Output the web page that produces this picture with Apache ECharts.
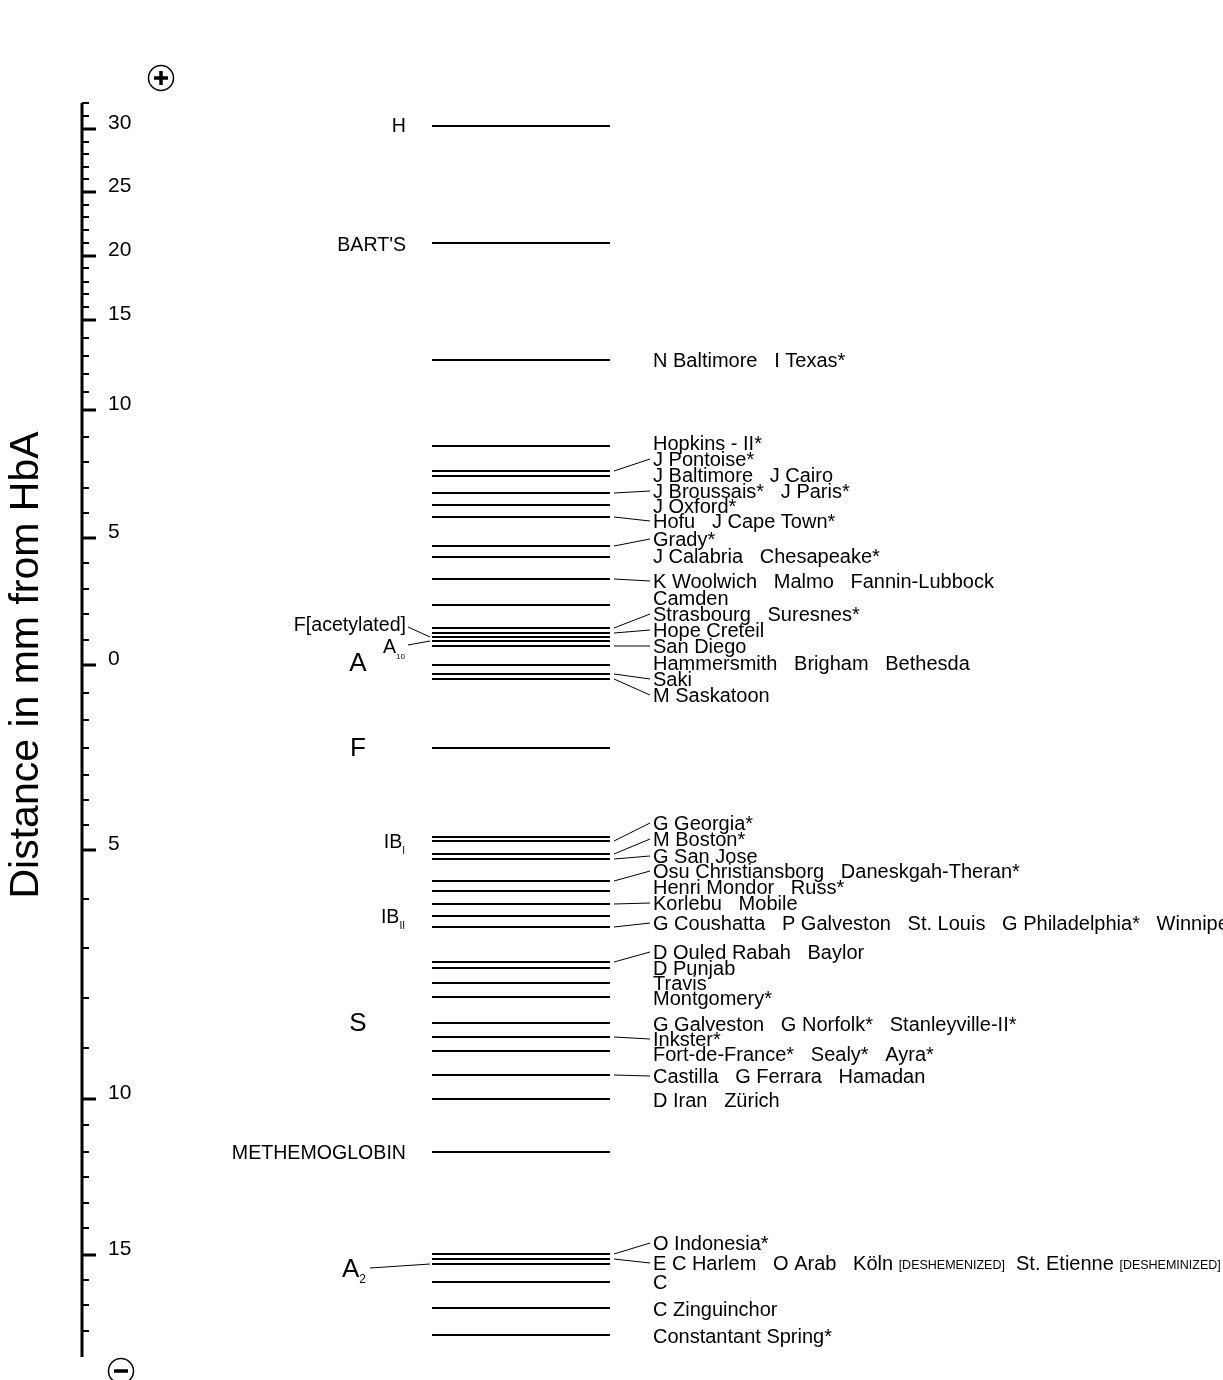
<!DOCTYPE html>
<html><head><meta charset="utf-8">
<script src="https://cdn.jsdelivr.net/npm/echarts@6/dist/echarts.min.js"></script>
<style>html,body{margin:0;padding:0;background:#fff}#c{width:1223px;height:1380px}</style>
</head><body><div id="c"></div>
<script>
// ---------- DATA (positions are in the chart's own axis units) ----------
const axisTitle = 'Distance in mm from HbA';
const tickLabels = ['30','25','20','15','10','5','0','5','10','15'];
const tickPos = [129,192,256,320,410,538,665,850,1099,1255];
const minorTickPos = [103,116,142,154,167,179,205,217,230,243,268,282,294,307,338,356,374,392,
  437,462,488,513,563,589,614,640,693,720,748,775,800,825,899,948,998,1048,
  1125,1152,1177,1203,1228,1280,1305,1331];
const axisEnds = [103,1357];
const poleSigns = ['+','-'];
const polePos = [78,1371];

const bandPos = [126,243,360,446,471,476,493,505,517,546,557,579,605,628,633,637,641,646,665,674,679,
  748,837,841,854,859,881,891,904,916,927,962,968,983,997,1023,1037,1051,1075,1099,1152,
  1254,1259,1264,1282,1308,1335];

const rightNames = [
  'N Baltimore   I Texas*','Hopkins - II*','J Pontoise*','J Baltimore   J Cairo','J Broussais*   J Paris*',
  'J Oxford*','Hofu   J Cape Town*','Grady*','J Calabria   Chesapeake*','K Woolwich   Malmo   Fannin-Lubbock',
  'Camden','Strasbourg   Suresnes*','Hope Creteil','San Diego','Hammersmith   Brigham   Bethesda',
  'Saki','M Saskatoon',
  'G Georgia*','M Boston*','G San Jose','Osu Christiansborg   Daneskgah-Theran*','Henri Mondor   Russ*',
  'Korlebu   Mobile','G Coushatta   P Galveston   St. Louis   G Philadelphia*   Winnipeg',
  'D Ouled Rabah   Baylor','D Punjab','Travis','Montgomery*','G Galveston   G Norfolk*   Stanleyville-II*',
  'Inkster*','Fort-de-France*   Sealy*   Ayra*','Castilla   G Ferrara   Hamadan','D Iran   Zürich',
  'O Indonesia*','E C Harlem   O Arab   Köln [DESHEMENIZED]  St. Etienne [DESHEMINIZED]','C',
  'C Zinguinchor','Constantant Spring*'];
const rightPos = [361,444,460,476,492,507,522,540,557,582,599,615,631,647,664,680,696,
  824,840,857,872,888,904,924,953,969,984,999,1025,1040,1055,1077,1101,
  1244,1264,1283,1310,1337];
const rightLeaderFrom = [null,null,471,null,493,null,517,546,null,579,null,628,633,646,null,674,679,
  841,854,859,881,null,904,927,962,null,null,null,null,1037,null,1075,null,
  1254,1259,null,null,null];

const leftNames = ['H',"BART'S",'F[acetylated]','A_10','A','F','IB_I','IB_II','S','METHEMOGLOBIN','A_2'];
const leftPos = [127,246,626,646,664,749,841,916,1024,1154,1268];
const leftLeaderTo = [null,null,637,641,null,null,null,null,null,null,1264];

// ---------- LAYOUT ----------
const FONT = '"Liberation Sans", Arial, Helvetica, sans-serif';
const AX_X = 82, BAND_X0 = 432, BAND_X1 = 610, LBL_X = 653, LEAD_X0 = 614, LEAD_X1 = 650;
const LEFT_R = 406, BIG_C = 358;
const RIGHT_SIZE = 20, LEFT_SIZE = 19.6;

function txt(x, y, text, size, align, extra) {
  return Object.assign({ type: 'text', x: x, y: y,
    style: Object.assign({ text: text, fontSize: size, fontFamily: FONT, fill: '#000',
      align: align, textAlign: align, verticalAlign: 'middle', textVerticalAlign: 'middle' }, extra || {}) });
}
function line(a, b, w) {
  return { type: 'line', shape: { x1: a[0], y1: a[1], x2: b[0], y2: b[1] }, style: { stroke: '#000', lineWidth: w } };
}
function subRich(main, sub, bigSize, subSize) {
  return { text: '{m|' + main + '}{s|' + sub + '}',
    rich: { m: { fontSize: bigSize, fontFamily: FONT, lineHeight: bigSize + 6, verticalAlign: 'middle' },
            s: { fontSize: subSize, fontFamily: FONT, lineHeight: subSize, verticalAlign: 'bottom' } } };
}

const chart = echarts.init(document.getElementById('c'), null, { renderer: 'canvas' });
const base = { type: 'custom', coordinateSystem: 'cartesian2d', encode: { x: 0, y: 1 }, clip: false, silent: true };

const option = {
  animation: false,
  backgroundColor: '#fff',
  grid: { left: 0, right: 0, top: 0, bottom: 0 },
  xAxis: { type: 'value', min: 0, max: 1223, show: false },
  yAxis: { type: 'value', min: 0, max: 1380, inverse: true, show: false },
  series: [
    // ruler line
    { type: 'line', data: axisEnds.map(y => [AX_X, y]), symbol: 'none', silent: true,
      lineStyle: { color: '#000', width: 3 } },
    // major ticks + labels
    Object.assign({}, base, {
      data: tickPos.map((y, i) => [AX_X, y, i]),
      renderItem: (p, api) => {
        const a = api.coord([AX_X, api.value(1)]);
        return { type: 'group', children: [
          line([a[0], a[1]], [a[0] + 14, a[1]], 3),
          txt(a[0] + 26, a[1] - 6, tickLabels[api.value(2)], 21, 'left')
        ] };
      } }),
    // minor ticks
    Object.assign({}, base, {
      data: minorTickPos.map(y => [AX_X, y]),
      renderItem: (p, api) => {
        const a = api.coord([AX_X, api.value(1)]);
        return line([a[0], a[1]], [a[0] + 7, a[1]], 2);
      } }),
    // bands
    Object.assign({}, base, {
      data: bandPos.map(y => [BAND_X0, y]),
      renderItem: (p, api) => {
        const a = api.coord([BAND_X0, api.value(1)]);
        const b = api.coord([BAND_X1, api.value(1)]);
        return line(a, b, 2.2);
      } }),
    // right labels + leaders
    Object.assign({}, base, {
      data: rightPos.map((y, i) => [LBL_X, y, i]),
      renderItem: (p, api) => {
        const i = api.value(2);
        const a = api.coord([LBL_X, api.value(1)]);
        const children = [];
        const name = rightNames[i];
        if (name.indexOf('[') >= 0) {
          const rich = name.replace(/\[([A-Z]+)\]/g, '{sc|[$1]}');
          children.push(txt(a[0], a[1], rich, RIGHT_SIZE, 'left', {
            rich: { sc: { fontSize: 12.5, fontFamily: FONT, verticalAlign: 'middle', padding: [4, 0, 0, 0] } } }));
        } else {
          children.push(txt(a[0], a[1], name, RIGHT_SIZE, 'left'));
        }
        const from = rightLeaderFrom[i];
        if (from !== null) {
          const s = api.coord([LEAD_X0, from]);
          const e = api.coord([LEAD_X1, api.value(1) - 1]);
          children.push(line(s, e, 1));
        }
        return { type: 'group', children: children };
      } }),
    // left labels + leaders
    Object.assign({}, base, {
      data: leftPos.map((y, i) => [LEFT_R, y, i]),
      renderItem: (p, api) => {
        const i = api.value(2);
        const name = leftNames[i];
        const children = [];
        let a;
        if (name.length === 1 && name !== 'H') {
          a = api.coord([BIG_C, api.value(1)]);
          children.push(txt(a[0], a[1], name, 26, 'center'));
        } else if (name === 'A_2') {
          a = api.coord([BIG_C - 4, api.value(1)]);
          const r = subRich('A', '2', 26, 12);
          children.push(txt(a[0], a[1] + 2, r.text, 26, 'center', { rich: r.rich }));
        } else if (name.indexOf('_') >= 0) {
          const parts = name.split('_');
          a = api.coord([LEFT_R - 1, api.value(1)]);
          const r = subRich(parts[0], parts[1], LEFT_SIZE, parts[1].length > 1 && /\d/.test(parts[1]) ? 8 : 10);
          children.push(txt(a[0], a[1] + 2, r.text, LEFT_SIZE, 'right', { rich: r.rich }));
        } else {
          a = api.coord([LEFT_R, api.value(1)]);
          children.push(txt(a[0], a[1], name, LEFT_SIZE, 'right'));
        }
        const to = leftLeaderTo[i];
        if (to !== null) {
          const start = name === 'A_2' ? api.coord([370, api.value(1)]) : api.coord([LEFT_R + 2, api.value(1) + (name === 'A_10' ? -1 : 1)]);
          children.push(line(start, api.coord([BAND_X0 - 2, to]), 1));
        }
        return { type: 'group', children: children };
      } }),
    // axis title
    Object.assign({}, base, {
      data: [[27, 665]],
      renderItem: (p, api) => {
        const a = api.coord([api.value(0), api.value(1)]);
        const t = txt(0, 0, axisTitle, 41, 'center');
        return { type: 'group', x: a[0], y: a[1], rotation: Math.PI / 2, children: [t] };
      } }),
    // pole marks (+ / -)
    Object.assign({}, base, {
      data: polePos.map((y, i) => [i === 0 ? 161 : 121, y, i]),
      renderItem: (p, api) => {
        const a = api.coord([api.value(0), api.value(1)]);
        const ch = [{ type: 'circle', shape: { cx: a[0], cy: a[1], r: 12.5 }, style: { fill: '#fff', stroke: '#000', lineWidth: 1.5 } },
          line([a[0] - 7, a[1]], [a[0] + 7, a[1]], 3.5)];
        if (poleSigns[api.value(2)] === '+') ch.push(line([a[0], a[1] - 7], [a[0], a[1] + 7], 3.5));
        return { type: 'group', children: ch };
      } })
  ]
};
chart.setOption(option);
</script></body></html>
